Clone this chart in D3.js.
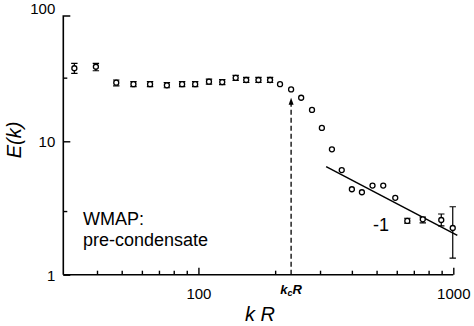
<!DOCTYPE html>
<html>
<head>
<meta charset="utf-8">
<script src="https://cdn.jsdelivr.net/npm/d3@7"></script>
<style>
  html, body { margin: 0; padding: 0; background: #fff; }
  svg { display: block; font-family: "Liberation Sans", Arial, Helvetica, sans-serif; }
</style>
</head>
<body>
<svg id="chart" width="474" height="326"></svg>
<script>
// ---- data ----
const kValues = [32.6, 39.6, 47.6, 55.6, 64.6, 75.2, 86.3, 97.1, 110, 124, 140, 154, 172, 191, 209, 231, 253, 279, 305, 334, 365, 400, 438, 482, 531, 592, 660, 759, 897, 995];
const eValues = [35.3, 36.2, 27.5, 26.8, 26.8, 26.3, 26.8, 26.8, 28.0, 27.8, 29.9, 28.8, 28.8, 28.8, 26.8, 24.5, 21.2, 17.2, 12.6, 8.71, 6.09, 4.37, 4.15, 4.66, 4.66, 3.77, 2.53, 2.60, 2.57, 2.24];
const eLow   = [32.3, 33.8, 26.0, 25.7, 25.7, 25.2, 25.7, 25.7, 26.8, 26.6, 28.6, 27.6, 27.6, 27.6, 26.8, 24.5, 21.2, 17.2, 12.6, 8.71, 6.09, 4.37, 4.15, 4.66, 4.66, 3.77, 2.43, 2.45, 2.32, 1.33];
const eHigh  = [38.4, 38.4, 28.8, 28.0, 28.0, 27.5, 28.0, 28.0, 29.2, 29.0, 31.2, 30.1, 30.1, 30.1, 26.8, 24.5, 21.2, 17.2, 12.6, 8.71, 6.09, 4.37, 4.15, 4.66, 4.66, 3.77, 2.65, 2.70, 2.85, 3.23];
const fitK = [317, 1037];
const fitE = [6.45, 1.97];
const kcValue = 231;
const arrowTipE = 21.2;
const xMajorTicks = [100, 1000];
const xMinorTicks = [40, 50, 60, 70, 80, 90, 200, 300, 400, 500, 600, 700, 800, 900];
const yMajorTicks = [1, 10, 100];
const yMinorTicks = [3, 30];
const yAxisTopValue = 87;

// ---- scales ----
const svg = d3.select("#chart");
const x = d3.scaleLog().domain([29.5, 1000]).range([63.3, 453.3]);
const y = d3.scaleLog().domain([1, 100]).range([274.7, 7.9]);

const axisColor = "#000";

// x axis (ticks pointing inward/up)
const gx = svg.append("g").attr("transform", `translate(0,${y(1)})`);
gx.call(d3.axisBottom(x).tickValues(xMajorTicks).tickSizeInner(-7).tickSizeOuter(0)
  .tickFormat(d3.format("d")));
gx.select(".domain").remove();
gx.selectAll(".tick line").attr("stroke", axisColor).attr("stroke-width", 1.4);
gx.selectAll(".tick text").attr("y", 0).attr("dy", 0).attr("transform", "translate(0,24)")
  .attr("font-size", 15).attr("fill", "#000").attr("font-family", "Liberation Sans, Arial, sans-serif");
const gxm = svg.append("g").attr("transform", `translate(0,${y(1)})`);
gxm.call(d3.axisBottom(x).tickValues(xMinorTicks).tickSizeInner(-4).tickSizeOuter(0).tickFormat(""));
gxm.select(".domain").remove();
gxm.selectAll(".tick line").attr("stroke", axisColor).attr("stroke-width", 1.4);
svg.append("line").attr("x1", x.range()[0]).attr("x2", x.range()[1])
  .attr("y1", y(1)).attr("y2", y(1)).attr("stroke", axisColor).attr("stroke-width", 1.6);

// y axis (ticks pointing inward/right)
const gy = svg.append("g").attr("transform", `translate(${x.range()[0]},0)`);
gy.call(d3.axisLeft(y).tickValues(yMajorTicks).tickSizeInner(-7).tickSizeOuter(0)
  .tickFormat(d3.format("d")));
gy.select(".domain").remove();
gy.selectAll(".tick line").attr("stroke", axisColor).attr("stroke-width", 1.4)
  .filter(d => d === 100).remove();
gy.selectAll(".tick text").attr("x", -8).attr("dy", "0.36em")
  .attr("font-size", 15).attr("fill", "#000").attr("font-family", "Liberation Sans, Arial, sans-serif");
const gym = svg.append("g").attr("transform", `translate(${x.range()[0]},0)`);
gym.call(d3.axisLeft(y).tickValues(yMinorTicks).tickSizeInner(-4).tickSizeOuter(0).tickFormat(""));
gym.select(".domain").remove();
gym.selectAll(".tick line").attr("stroke", axisColor).attr("stroke-width", 1.4);
const yTop = y(yAxisTopValue);
svg.append("path")
  .attr("d", `M${x.range()[0] + 7},${yTop}H${x.range()[0]}V${y(1)}`)
  .attr("fill", "none").attr("stroke", axisColor).attr("stroke-width", 1.6);

// axis titles
svg.append("text").attr("x", 260).attr("y", 321).attr("text-anchor", "middle")
  .attr("font-size", 20).attr("font-style", "italic").text("k R");
svg.append("text").attr("transform", "translate(21,140) rotate(-90)").attr("text-anchor", "middle")
  .attr("font-size", 20).attr("font-style", "italic").text("E(k)");

// k_c R label
const kc = svg.append("text").attr("x", x(kcValue)).attr("y", 294).attr("text-anchor", "middle")
  .attr("font-size", 13).attr("font-weight", "bold").attr("font-style", "italic");
kc.append("tspan").text("k");
kc.append("tspan").attr("font-size", 9).attr("dy", 2).text("c");
kc.append("tspan").attr("dy", -2).text("R");

// dashed arrow
const ax = x(kcValue), tipY = y(arrowTipE);
svg.append("line").attr("x1", ax).attr("x2", ax).attr("y1", y(1)).attr("y2", tipY + 5)
  .attr("stroke", "#000").attr("stroke-width", 1.3).attr("stroke-dasharray", "5,3");
svg.append("path").attr("d", `M${ax},${tipY}L${ax - 2.5},${tipY + 7}L${ax + 2.5},${tipY + 7}Z`)
  .attr("fill", "#000");

// fit line
svg.append("line")
  .attr("x1", x(fitK[0])).attr("y1", y(fitE[0]))
  .attr("x2", x(fitK[1])).attr("y2", y(fitE[1]))
  .attr("stroke", "#000").attr("stroke-width", 1.5);
svg.append("text").attr("x", 381).attr("y", 231).attr("text-anchor", "middle")
  .attr("font-size", 18).text("-1");

// error bars
const pts = kValues.map((k, i) => ({ k, e: eValues[i], lo: eLow[i], hi: eHigh[i] }));
const r = 2.5, cap = 3.2;
const eb = svg.append("g").attr("stroke", "#000").attr("stroke-width", 1.2).attr("fill", "none");
pts.filter(d => d.hi > d.lo).forEach(d => {
  const cx = x(d.k), y1 = y(d.hi), y2 = y(d.lo);
  eb.append("path").attr("d",
    `M${cx},${y1}V${Math.min(y(d.e) - r, y2)}M${cx},${Math.max(y(d.e) + r, y1)}V${y2}` +
    `M${cx - cap},${y1}H${cx + cap}M${cx - cap},${y2}H${cx + cap}`);
});

// markers
svg.append("g").selectAll("circle").data(pts).join("circle")
  .attr("cx", d => x(d.k)).attr("cy", d => y(d.e)).attr("r", r)
  .attr("fill", "#fff").attr("stroke", "#000").attr("stroke-width", 1.3);

// annotation
const ann = svg.append("text").attr("x", 83).attr("font-size", 18);
ann.append("tspan").attr("x", 83).attr("y", 225).text("WMAP:");
ann.append("tspan").attr("x", 83).attr("y", 246).text("pre-condensate");
</script>
</body>
</html>
